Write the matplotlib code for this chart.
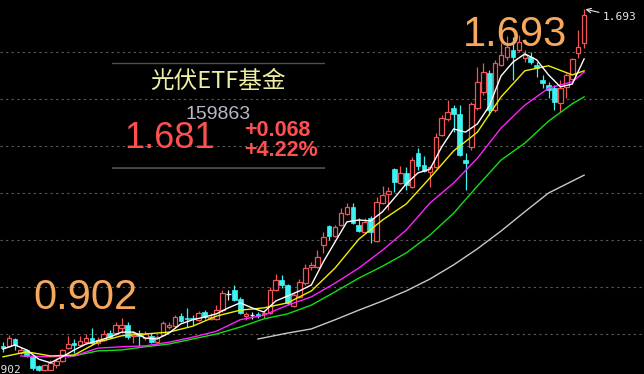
import matplotlib
matplotlib.use("Agg")
import matplotlib.pyplot as plt
from matplotlib.patches import Rectangle

# ---------------------------------------------------------------------------
# Data (daily candles)
# ---------------------------------------------------------------------------

opens = [0.957, 0.957, 0.972, 0.941, 0.948, 0.933, 0.913, 0.904, 0.904, 0.915,
         0.924, 0.952, 0.963, 0.959, 0.965, 0.974, 0.963, 0.970, 0.985, 0.985,
         0.996, 1.003, 0.979, 0.985, 0.974, 0.979, 0.965, 0.981, 0.998, 1.000,
         1.022, 1.018, 1.018, 1.014, 1.031, 1.016, 1.016, 1.035, 1.070, 1.079,
         1.059, 1.022, 1.024, 1.027, 1.027, 1.029, 1.079, 1.101, 1.090, 1.044,
         1.064, 1.094, 1.129, 1.129, 1.177, 1.219, 1.197, 1.221, 1.245, 1.260,
         1.221, 1.206, 1.236, 1.186, 1.269, 1.289, 1.343, 1.313, 1.335, 1.304,
         1.378, 1.352, 1.337, 1.348, 1.418, 1.453, 1.477, 1.464, 1.363, 1.391,
         1.477, 1.512, 1.553, 1.472, 1.571, 1.588, 1.604, 1.604, 1.586, 1.588,
         1.571, 1.538, 1.527, 1.520, 1.488, 1.523, 1.540, 1.597, 1.619]
highs = [0.965, 0.981, 0.974, 0.955, 0.950, 0.935, 0.915, 0.917, 0.926, 0.930,
         0.950, 0.979, 0.972, 0.979, 0.983, 0.996, 0.976, 0.992, 0.992, 1.009,
         1.018, 1.009, 0.989, 0.992, 0.989, 0.985, 0.981, 1.011, 1.009, 1.024,
         1.029, 1.040, 1.024, 1.033, 1.035, 1.029, 1.046, 1.079, 1.079, 1.090,
         1.064, 1.031, 1.031, 1.031, 1.033, 1.086, 1.114, 1.112, 1.092, 1.073,
         1.103, 1.136, 1.140, 1.166, 1.206, 1.221, 1.221, 1.258, 1.269, 1.269,
         1.236, 1.236, 1.241, 1.282, 1.306, 1.304, 1.345, 1.350, 1.348, 1.370,
         1.389, 1.372, 1.350, 1.422, 1.461, 1.494, 1.483, 1.483, 1.378, 1.490,
         1.566, 1.575, 1.560, 1.582, 1.619, 1.634, 1.632, 1.636, 1.604, 1.599,
         1.577, 1.549, 1.534, 1.527, 1.538, 1.553, 1.586, 1.647, 1.693]
lows = [0.944, 0.955, 0.948, 0.939, 0.933, 0.904, 0.902, 0.903, 0.904, 0.909,
        0.922, 0.950, 0.941, 0.957, 0.961, 0.959, 0.959, 0.968, 0.974, 0.981,
        0.985, 0.972, 0.963, 0.957, 0.970, 0.963, 0.959, 0.979, 0.994, 0.998,
        1.009, 0.998, 1.003, 1.011, 1.016, 1.014, 1.014, 1.031, 1.057, 1.055,
        1.027, 1.014, 1.016, 1.018, 1.018, 1.027, 1.077, 1.083, 1.046, 1.042,
        1.062, 1.090, 1.123, 1.127, 1.160, 1.188, 1.195, 1.219, 1.243, 1.223,
        1.206, 1.204, 1.182, 1.184, 1.267, 1.254, 1.293, 1.311, 1.297, 1.302,
        1.341, 1.337, 1.304, 1.345, 1.415, 1.448, 1.424, 1.372, 1.297, 1.385,
        1.472, 1.505, 1.461, 1.468, 1.569, 1.582, 1.538, 1.599, 1.577, 1.573,
        1.544, 1.520, 1.499, 1.472, 1.468, 1.499, 1.538, 1.586, 1.608]
closes = [0.952, 0.974, 0.959, 0.948, 0.935, 0.909, 0.904, 0.915, 0.920, 0.924,
          0.948, 0.961, 0.959, 0.968, 0.974, 0.963, 0.970, 0.983, 0.976, 1.003,
          1.003, 0.976, 0.985, 0.979, 0.983, 0.965, 0.976, 1.007, 1.003, 1.020,
          1.011, 1.016, 1.016, 1.029, 1.020, 1.020, 1.035, 1.072, 1.070, 1.057,
          1.029, 1.027, 1.024, 1.022, 1.029, 1.079, 1.101, 1.090, 1.051, 1.068,
          1.097, 1.127, 1.134, 1.151, 1.195, 1.197, 1.217, 1.247, 1.260, 1.225,
          1.208, 1.228, 1.206, 1.271, 1.287, 1.295, 1.315, 1.335, 1.308, 1.363,
          1.350, 1.339, 1.348, 1.413, 1.455, 1.468, 1.464, 1.374, 1.356, 1.485,
          1.534, 1.555, 1.472, 1.575, 1.593, 1.610, 1.588, 1.621, 1.593, 1.577,
          1.564, 1.531, 1.516, 1.490, 1.520, 1.549, 1.584, 1.610, 1.681]

# moving-average lines, sampled at candle indices
ma5_idx = list(range(0, 99, 2))
ma5 = [0.950, 0.959, 0.948, 0.928, 0.920, 0.933, 0.948, 0.961, 0.968, 0.976,
       0.987, 0.987, 0.974, 0.972, 0.985, 1.005, 1.014, 1.020, 1.027, 1.040,
       1.051, 1.040, 1.031, 1.055, 1.066, 1.077, 1.090, 1.140, 1.184, 1.228,
       1.232, 1.230, 1.250, 1.280, 1.311, 1.335, 1.343, 1.392, 1.431, 1.424,
       1.442, 1.481, 1.547, 1.577, 1.595, 1.582, 1.549, 1.523, 1.529, 1.584]
ma10_idx = list(range(0, 97, 4)) + [98]
ma10 = [0.933, 0.944, 0.935, 0.937, 0.965, 0.979, 0.983, 0.987, 1.000, 1.022,
        1.035, 1.040, 1.051, 1.077, 1.127, 1.190, 1.232, 1.267, 1.324, 1.383,
        1.424, 1.501, 1.558, 1.569, 1.549, 1.558]
ma20_idx = [3] + list(range(8, 97, 4)) + [98]
ma20 = [0.935, 0.933, 0.935, 0.952, 0.955, 0.957, 0.965, 0.976, 0.989, 1.014,
        1.024, 1.046, 1.064, 1.094, 1.127, 1.166, 1.210, 1.269, 1.313, 1.367,
        1.433, 1.483, 1.520, 1.534, 1.555]
ma30_idx = [11, 12] + list(range(16, 97, 4)) + [98]
ma30 = [0.933, 0.935, 0.946, 0.948, 0.955, 0.961, 0.972, 0.983, 0.998, 1.016,
        1.027, 1.046, 1.075, 1.105, 1.131, 1.160, 1.199, 1.247, 1.306, 1.363,
        1.400, 1.448, 1.486, 1.501]
ma60_idx = [43, 48, 52, 56, 60, 64, 68, 72, 76, 80, 84, 88, 92, 96, 98]
ma60 = [0.972, 0.985, 0.994, 1.014, 1.035, 1.055, 1.077, 1.103, 1.134, 1.169,
        1.208, 1.250, 1.291, 1.317, 1.330]

grid_levels = [0.983, 1.086, 1.188, 1.291, 1.394, 1.496, 1.599]

fund_name = "光伏ETF基金"
fund_code = "159863"
last_price = "1.681"
change_abs = "+0.068"
change_pct = "+4.22%"

# ---------------------------------------------------------------------------
# Style
# ---------------------------------------------------------------------------

BG = "#000000"
RED = "#f05454"
CYAN = "#3ef2f2"
ORANGE = "#f6a85c"
NUM_FONT = ["Liberation Sans", "DejaVu Sans"]
CJK_FONT = ["Noto Sans CJK SC", "DejaVu Sans"]

fig = plt.figure(figsize=(6.44, 3.74), dpi=100, facecolor=BG)
ax = fig.add_axes([0, 0, 1, 1], facecolor=BG)
ax.set_xlim(-0.506, 108.1)
ax.set_ylim(0.8955, 1.7127)
ax.axis("off")

for lvl in grid_levels:
    ax.axhline(lvl, color="#5c5c5c", lw=0.8, ls=(0, (2, 3)), zorder=0)

# ---- candles ----
W = 0.78
for i, (o, h, l, c) in enumerate(zip(opens, highs, lows, closes)):
    if c > o:
        ax.vlines(i, c, h, color=RED, lw=0.9, zorder=2)
        ax.vlines(i, l, o, color=RED, lw=0.9, zorder=2)
        ax.add_patch(Rectangle((i - W / 2, o), W, c - o, facecolor=BG,
                               edgecolor=RED, lw=0.9, zorder=2))
    elif c < o:
        ax.vlines(i, l, h, color=CYAN, lw=0.9, zorder=2)
        ax.add_patch(Rectangle((i - W / 2, c), W, o - c, facecolor=CYAN,
                               edgecolor=CYAN, lw=0.5, zorder=2))
    else:
        ax.vlines(i, l, h, color="#e8e8e8", lw=0.9, zorder=2)
        ax.hlines(o, i - W / 2, i + W / 2, color="#e8e8e8", lw=1.0, zorder=2)

# ---- moving averages ----
ax.plot(ma60_idx, ma60, color="#c8c8c8", lw=1.0, zorder=3)
ax.plot(ma30_idx, ma30, color="#10e010", lw=1.0, zorder=3)
ax.plot(ma20_idx, ma20, color="#ff20ff", lw=1.0, zorder=3)
ax.plot(ma10_idx, ma10, color="#f0f000", lw=1.0, zorder=3)
ax.plot(ma5_idx, ma5, color="#ffffff", lw=1.0, zorder=3)

# ---- extreme price labels ----
i_hi = highs.index(max(highs))
i_lo = lows.index(min(lows))
ax.annotate(f"{max(highs):.3f}", xy=(i_hi, max(highs)), xytext=(19, -8),
            textcoords="offset pixels", ha="left", va="center",
            color="#e6e6e6", fontsize=8, family="DejaVu Sans Mono",
            arrowprops=dict(arrowstyle="->", color="#e6e6e6", lw=0.8,
                            shrinkA=1, shrinkB=1), zorder=6)
ax.annotate(f"{min(lows):.3f}", xy=(i_lo, min(lows)), xytext=(-18, 1),
            textcoords="offset pixels", ha="right", va="center",
            color="#e6e6e6", fontsize=8, family="DejaVu Sans Mono", zorder=6)

ax.text(0.7997, 0.9064, f"{max(highs):.3f}", transform=ax.transAxes,
        ha="center", va="center", color=ORANGE, fontsize=30,
        family=NUM_FONT, zorder=7)
ax.text(0.1335, 0.2032, f"{min(lows):.3f}", transform=ax.transAxes,
        ha="center", va="center", color=ORANGE, fontsize=30,
        family=NUM_FONT, zorder=7)

# ---- quote box ----
box = fig.add_axes([112 / 644, 1 - 169 / 374, 213 / 644, 107 / 374],
                   facecolor=BG)
box.set_xlim(0, 1)
box.set_ylim(0, 1)
box.axis("off")
box.axhline(0.995, color="#505050", lw=1.0)
box.axhline(0.012, color="#484848", lw=2.0)
box.text(0.498, 0.822, fund_name, ha="center", va="center",
         color="#eeeea4", fontsize=17, family=CJK_FONT)
box.text(0.498, 0.505, fund_code, ha="center", va="center",
         color="#b8b8c8", fontsize=14, family=NUM_FONT)
box.text(0.268, 0.285, last_price, ha="center", va="center",
         color="#ff5050", fontsize=26, family=NUM_FONT)
box.text(0.618, 0.36, change_abs, ha="left", va="center",
         color="#ff5050", fontsize=15.5, fontweight="bold", family=NUM_FONT)
box.text(0.618, 0.175, change_pct, ha="left", va="center",
         color="#ff5050", fontsize=15.5, fontweight="bold", family=NUM_FONT)

fig.savefig("out.png", dpi=100, facecolor=BG)
